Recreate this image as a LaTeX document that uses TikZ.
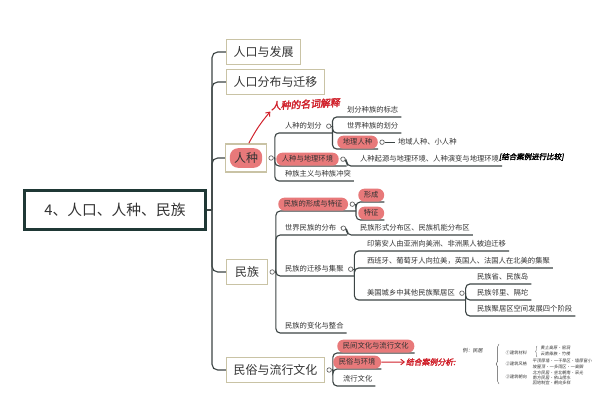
\documentclass[tikz,border=0pt]{standalone}
\usepackage{fontspec}
\setmainfont{Noto Sans CJK SC}
\newfontfamily\handfont{Noto Sans CJK SC}[FakeSlant=0.18,FakeBold=2.5]
\newfontfamily\notefont{Noto Sans CJK SC}[FakeSlant=0.1]
\usetikzlibrary{
  arrows.meta, positioning, fit, backgrounds, decorations.pathreplacing
}
\definecolor{linkgray}{HTML}{3C4545}
\definecolor{pillred}{HTML}{E8797A}
\definecolor{khaki}{HTML}{C9C3A5}
\definecolor{rootteal}{HTML}{1F3835}
\definecolor{inkred}{HTML}{D0202A}
\definecolor{txtgray}{HTML}{333333}
\tikzset{
  >=Latex,
  font=\fontsize{5.2}{6}\selectfont, text=txtgray,
  rootbox/.style={
    draw=rootteal, line width=1.8pt, fill=white,
    minimum width=129pt, minimum height=28pt, font=\fontsize{10.5}{12}\selectfont
  },
  topic/.style={
    draw=khaki, line width=1pt, fill=white, anchor=west,
    inner xsep=5pt, minimum height=17.5pt, font=\fontsize{8.5}{10}\selectfont
  },
  frame/.style={draw=khaki, line width=1pt, inner sep=2.8pt},
  bigpill/.style={
    fill=pillred, rounded corners=6pt, inner xsep=3pt, inner ysep=0pt,
    minimum height=14pt, font=\fontsize{8.5}{10}\selectfont
  },
  leaf/.style={
    anchor=south west, inner xsep=2pt, inner ysep=2.3pt,
    text height=4pt, text depth=0.7pt
  },
  pill/.style={leaf, fill=pillred, rounded corners=4.5pt, inner xsep=4pt},
  knob/.style={
    circle, draw=gray!80!black, fill=white, line width=0.5pt,
    inner sep=0pt, minimum size=3.2pt, right=1pt of #1
  },
  link/.style={draw=linkgray, line width=0.8pt, rounded corners=3pt},
  ink/.style={font=\handfont\fontsize{7}{8}\selectfont, text=inkred, inner sep=0.5pt},
  inkarr/.style={draw=inkred, line width=0.7pt, -{Straight Barb[length=2.5pt,width=4pt]}},
  note/.style={font=\notefont\fontsize{3}{3.5}\selectfont, text=black!80, inner sep=0.3pt, anchor=west}
}

\begin{document}
\begin{tikzpicture}[x=0.025cm, y=-0.025cm]
  \useasboundingbox (0,0) rectangle (600,412);

  % root and main topics
  \node[rootbox] (root) at (115,210) {4、人口、人种、民族};
  \node[topic] (pop) at (226,52) {人口与发展};
  \node[topic] (mig) at (226,82) {人口分布与迁移};
  \node[bigpill] (racep) at (246,158) {人种};
  \node[frame, fit=(racep)] (race) {};
  \node[topic, minimum width=29pt] (nat) at (226,272) {民族};
  \node[topic] (folk) at (226,370) {民俗与流行文化};
  \coordinate (sp) at (212,210);

  % race
  \node[knob=race] (racek) {};
  \coordinate[right=0.8pt of racek] (racej);
  \node[leaf] (r1) at (282,133) {人种的划分};
  \node[knob=r1] (r1k) {};
  \coordinate[right=0.8pt of r1k] (r1j);
  \node[leaf] (r11) at (344,117) {划分种族的标志};
  \node[leaf] (r12) at (344,133) {世界种族的划分};
  \node[pill] (r13) at (337,149) {地理人种};
  \node[knob=r13] (r13k) {};
  \node[leaf] (r131) at (395,149) {地域人种、小人种};
  \node[pill] (r2) at (276,166) {人种与地理环境};
  \node[knob=r2] (r2k) {};
  \coordinate[right=0.8pt of r2k] (r2j);
  \node[leaf] (r21) at (357,166) {人种起源与地理环境、人种演变与地理环境};
  \node[leaf] (r3) at (282,181) {种族主义与种族冲突};

  % nation
  \node[knob=nat] (natk) {};
  \coordinate[right=0.8pt of natk] (natj);
  \node[pill] (m1) at (278,211) {民族的形成与特征};
  \node[knob=m1] (m1k) {};
  \coordinate[right=0.8pt of m1k] (m1j);
  \node[pill] (m11) at (358,202) {形成};
  \node[pill] (m12) at (358,220) {特征};
  \node[leaf] (m2) at (282,235) {世界民族的分布};
  \node[knob=m2] (m2k) {};
  \coordinate[right=0.8pt of m2k] (m2j);
  \node[leaf] (m21) at (357,235) {民族形式分布区、民族机能分布区};
  \node[leaf] (m3) at (282,276) {民族的迁移与集聚};
  \node[knob=m3] (m3k) {};
  \coordinate[right=0.8pt of m3k] (m3j);
  \node[leaf] (m31) at (364,251) {印第安人由亚洲向美洲、非洲黑人被迫迁移};
  \node[leaf] (m32) at (364,268) {西班牙、葡萄牙人向拉美，英国人、法国人在北美的集聚};
  \node[leaf] (m33) at (364,300) {美国城乡中其他民族聚居区};
  \node[knob=m33] (m33k) {};
  \coordinate[right=0.8pt of m33k] (m33j);
  \node[leaf] (m331) at (474,284) {民族省、民族岛};
  \node[leaf] (m332) at (474,300) {民族邻里、隔坨};
  \node[leaf] (m333) at (474,316) {民族聚居区空间发展四个阶段};
  \node[leaf] (m4) at (282,333) {民族的变化与整合};

  % folk culture
  \node[knob=folk] (folkk) {};
  \coordinate[right=0.8pt of folkk] (folkj);
  \node[pill] (w1) at (337,353) {民间文化与流行文化};
  \node[pill] (w2) at (333,369) {民俗与环境};
  \node[leaf] (w3) at (340,386) {流行文化};

  \begin{scope}[on background layer]
    \fill[white] (0,0) rectangle (600,412);
    \draw[link] (root.east) -- (sp);
    \foreach \t in {pop,mig,race,nat,folk}
      \draw[link, rounded corners=4pt] (sp) |- (\t.west);
    \draw[link] (racek) -- (racej);
    \draw[link] (racej) |- (r1j |- r1.south);
    \draw[link] (racej) |- (r2j |- r2.south);
    \draw[link] (racej) |- (r3.south east);
    \draw[link] (r1k) -- (r1j);
    \foreach \c in {r11,r12,r13}
      \draw[link] (r1j) |- (\c.south east);
    \draw[link] (r13k) -- (r131.west);
    \draw[link] (r2k) -- (r2j) |- (r21.south east);
    \draw[link] (natk) -- (natj);
    \foreach \c in {m1,m2,m3}
      \draw[link] (natj) |- (\c j |- \c.south);
    \draw[link] (natj) |- (m4.south east);
    \draw[link] (m1k) -- (m1j);
    \draw[link] (m1j) |- (m11.south east);
    \draw[link] (m1j) |- (m12.south east);
    \draw[link] (m2k) -- (m2j) |- (m21.south east);
    \draw[link] (m3k) -- (m3j);
    \draw[link] (m3j) |- (m31.south east);
    \draw[link] (m3j) |- (m32.south east);
    \draw[link] (m3j) |- (m33j |- m33.south);
    \draw[link] (m33k) -- (m33j);
    \foreach \c in {m331,m332,m333}
      \draw[link] (m33j) |- (\c.south east);
    \draw[link] (folkk) -- (folkj);
    \foreach \c in {w1,w2,w3}
      \draw[link] (folkj) |- (\c.south east);
  \end{scope}

  % handwritten notes
  \node[ink, anchor=west, rotate=3] (racenote) at (270,106) {人种的名词解释};
  \draw[inkarr] ([xshift=2pt]race.north) to[bend left=6] (racenote.south west);
  \node[ink, anchor=west, text=black, font=\handfont\fontsize{5.3}{6}\selectfont]
    (r21note) at (498,157) {[结合案例进行比较]};
  \node[ink, anchor=west, font=\handfont\fontsize{5.6}{6}\selectfont]
    (w2note) at (405,362) {结合案例分析:};
  \draw[inkarr] (w2.east) -- (w2note.west);
  \node[note, font=\notefont\fontsize{3.6}{4}\selectfont] (ex) at (462,351) {例：民居};
  \draw[black!70, line width=0.3pt, decorate, decoration={brace, amplitude=2pt}]
    (499,384) -- (499,344);
  \node[note] (n1) at (505,353) {①建筑材料};
  \node[note] (n2) at (505,364) {②建筑风格};
  \node[note] (n3) at (505,377) {③建筑朝向};
  \draw[black!70, line width=0.25pt, decorate, decoration={brace, amplitude=1pt}]
    (537,357) -- (537,346);
  \node[note] (n11) at (540,348) {黄土高原·窑洞};
  \node[note] (n12) at (540,354) {云南傣族·竹楼};
  \node[note] (n21) at (532,361) {平顶厚墙·一干旱区·墙厚窗小};
  \node[note] (n22) at (532,367) {坡屋顶·一多雨区·一高脚};
  \node[note] (n31) at (532,373) {北方民居·坐北朝南·采光};
  \node[note] (n32) at (532,378) {南方民居·依山傍水};
  \node[note] (n33) at (532,383) {因地制宜·朝向多样};
\end{tikzpicture}
\end{document}
